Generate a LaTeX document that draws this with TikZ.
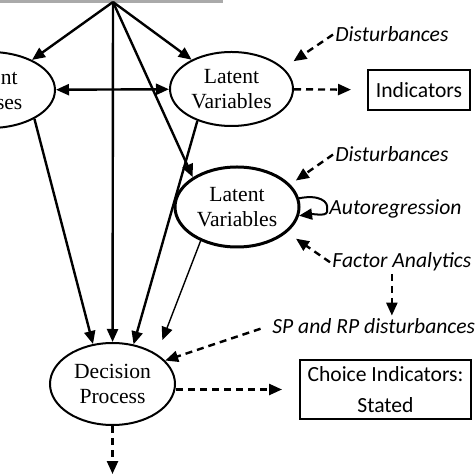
\documentclass[tikz,border=0pt]{standalone}
\usepackage{fontspec}
\setmainfont{Liberation Serif}
\newfontfamily\lblfont{Carlito}
\usetikzlibrary{positioning,arrows.meta,calc,shapes.geometric}
\definecolor{ink}{RGB}{0,0,0}
\definecolor{rule}{RGB}{170,170,170}
\tikzset{
  latent/.style={ellipse, draw=ink, line width=1pt, inner sep=0pt, align=center,
                 minimum width=61.5pt, minimum height=37pt, text=ink,
                 font=\fontsize{10.8}{12.8}\selectfont},
  obsbox/.style={draw=ink, line width=1pt, inner sep=0pt, align=center, text=ink,
                 font=\lblfont\fontsize{10.8}{12.8}\selectfont},
  note/.style={inner sep=1pt, anchor=base west, text=ink,
               font=\lblfont\itshape\fontsize{10.8}{12.8}\selectfont},
  arr/.style={-{Triangle[length=6.5pt,width=5.5pt]}, line width=1.2pt, draw=ink},
  biarr/.style={{Triangle[length=6.5pt,width=5.5pt]}-{Triangle[length=6.5pt,width=5.5pt]},
                line width=1.2pt, draw=ink},
  darr/.style={arr, dash pattern=on 3.5pt off 2.5pt},
}

\begin{document}
\begin{tikzpicture}[x=0.5pt, y=-0.5pt]
  \useasboundingbox (0,0) rectangle (474,474);
  % lower edge of the box above the crop
  \draw[rule, line width=1.2pt] (0,1.5) -- (223,1.5);
  \coordinate (src) at (113,2);

  \node[latent, minimum width=65pt, minimum height=38pt] (lc) at (-10,90) {Latent\\Classes};
  \node[latent] (lvA) at (231.5,89) {Latent\\Variables};
  \node[latent, line width=1.5pt, minimum width=62pt, minimum height=40pt] (lvB) at (237,207) {Latent\\Variables};
  \node[latent, minimum width=62.5pt, minimum height=41pt] (dp) at (112.5,384) {Decision\\Process};

  \node[obsbox, minimum width=51pt, minimum height=20pt] (ind) at (419,90) {Indicators};
  \node[obsbox, minimum width=85.5pt, minimum height=29.5pt] (ci) at (385.5,389.5)
    {Choice Indicators:\\[2.7pt] Stated};

  \node[note] (dist1) at (333,42) {Disturbances};
  \node[note] (dist2) at (333,162) {Disturbances};
  \node[note] (ar) at (327,215) {Autoregression};
  \node[note] (fa) at (330,268) {Factor Analytics};
  \node[note] (sp) at (270,333) {SP and RP disturbances};
  \coordinate (exit) at (112.5,474);

  % structural paths
  \draw[arr] (src) -- (lc);
  \draw[arr] (src) -- (lvA);
  \draw[arr] (src) -- (dp);
  \draw[arr] (src) -- (lvB.146);
  \draw[biarr] (lc) -- (lvA);
  \draw[arr] (lc.-33) -- (dp.116);
  \draw[arr] (lvA.-137) -- (dp.62);
  \draw[arr, line width=0.7pt, shorten >=7.5pt] (lvB.-137) -- (dp.34);

  % measurement and error terms
  \draw[darr, shorten >=8pt] (lvA) -- (ind);
  \draw[darr, shorten >=6pt] (dist1.west) -- (lvA.22);
  \draw[darr, shorten >=3.4pt] (dist2.west) -- (lvB.23);
  \draw[arr, line width=1pt] (lvB.8) .. controls +(20,-4) and +(2,-8) .. (ar.west)
    .. controls +(2,8) and +(16,-2) .. (lvB.-8);
  \draw[darr, shorten >=5.4pt] (fa.west) -- (lvB.-27);
  \draw[darr] ([xshift=-5pt]fa.south) -- ([xshift=-5pt]fa.south |- sp.north);
  \draw[darr, shorten <=5pt] (sp.west) -- (dp.24);
  \draw[darr, shorten >=8.5pt] (dp.east |- ci.west) -- (ci.west);
  \draw[darr] (dp) -- (exit);
\end{tikzpicture}
\end{document}
